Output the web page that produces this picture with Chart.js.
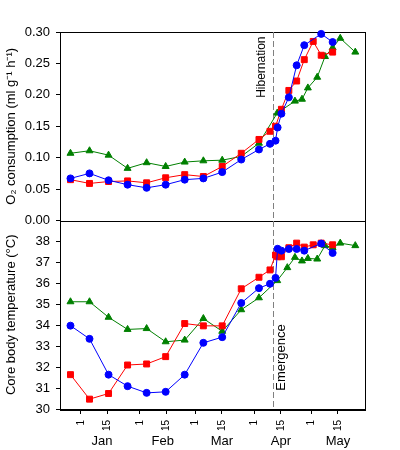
<!DOCTYPE html>
<html>
<head>
<meta charset="utf-8">
<script src="https://cdn.jsdelivr.net/npm/chart.js@4.4.1/dist/chart.umd.min.js"></script>
<style>
  html, body { margin: 0; padding: 0; background: #fff; }
  #wrap { width: 400px; height: 450px; }
</style>
</head>
<body>
<div id="wrap"><canvas id="myChart" width="400" height="450"></canvas></div>
<script>

// AXES (days counted from Jan 1) //

const dayTicks = [0, 14, 31, 45, 60, 74, 91, 105, 121, 135];
const dayTickLabels = ['1', '15', '1', '15', '1', '15', '1', '15', '1', '15'];
const monthTicks = [11, 43, 74, 105, 135];
const monthLabels = ['Jan', 'Feb', 'Mar', 'Apr', 'May'];
const eventDay = 100.8;

// O2 CONSUMPTION //

const blueO2Days = [-5.5, 4.5, 14.5, 24.5, 34.5, 44.5, 54.5, 64.3, 74.2, 84.2, 93.5, 99.3, 102.2, 103.3, 105.3, 109.2, 113.3, 117.3, 126.2, 132.2];
const blueO2 = [0.067, 0.075, 0.064, 0.057, 0.052, 0.057, 0.065, 0.067, 0.077, 0.097, 0.113, 0.122, 0.127, 0.148, 0.170, 0.196, 0.247, 0.279, 0.297, 0.284];

const redO2Days = [-5.5, 4.5, 14.5, 24.5, 34.5, 44.5, 54.5, 64.3, 74.2, 84.2, 93.5, 99.3, 102.2, 105.3, 109.2, 113.3, 117.3, 122.0, 126.2, 132.2];
const redO2 = [0.065, 0.059, 0.062, 0.063, 0.060, 0.068, 0.073, 0.070, 0.086, 0.107, 0.129, 0.142, 0.150, 0.177, 0.207, 0.222, 0.256, 0.285, 0.263, 0.268];

const greenO2Days = [-5.5, 4.5, 14.5, 24.5, 34.5, 44.5, 54.5, 64.3, 74.2, 84.2, 93.5, 103.1, 112.4, 116.1, 119.2, 124.1, 128.2, 132.2, 136.2, 144.1];
const greenO2 = [0.107, 0.111, 0.104, 0.083, 0.092, 0.086, 0.093, 0.095, 0.096, 0.102, 0.123, 0.171, 0.190, 0.193, 0.211, 0.228, 0.261, 0.275, 0.290, 0.268];

// CORE BODY TEMPERATURE //

const blueTDays = [-5.5, 4.5, 14.5, 24.5, 34.5, 44.5, 54.5, 64.3, 74.2, 84.2, 93.5, 99.3, 102.2, 103.3, 105.3, 109.2, 113.3, 117.3, 126.2, 132.2];
const blueT = [33.98, 33.35, 31.64, 31.09, 30.77, 30.82, 31.64, 33.16, 33.43, 35.06, 35.77, 35.98, 36.26, 37.65, 37.56, 37.64, 37.64, 37.56, 37.90, 37.45];

const redTDays = [-5.5, 4.5, 14.5, 24.5, 34.5, 44.5, 54.5, 64.3, 74.2, 84.2, 93.5, 99.3, 102.2, 103.3, 105.3, 109.2, 113.3, 117.3, 122.0, 126.2, 132.2];
const redT = [31.64, 30.47, 30.74, 32.10, 32.15, 32.50, 34.08, 33.97, 33.97, 35.74, 36.29, 36.64, 37.35, 37.27, 37.27, 37.70, 37.92, 37.73, 37.84, 37.92, 37.84];

const greenTDays = [-5.5, 4.5, 14.5, 24.5, 34.5, 44.5, 54.5, 64.3, 74.2, 84.2, 93.5, 103.1, 108.4, 112.4, 116.1, 119.2, 124.1, 128.2, 132.2, 136.2, 144.1];
const greenT = [35.12, 35.12, 34.38, 33.80, 33.84, 33.21, 33.29, 34.32, 33.71, 34.74, 35.31, 36.13, 36.75, 37.24, 37.07, 37.19, 37.16, 37.80, 37.71, 37.92, 37.80];


const xMin = -11;
const xMax = 149.2;

const pts = (days, vals) => days.map((d, i) => ({ x: d, y: vals[i] }));

const serie = (days, vals, axis, color, style, radius) => ({
  data: pts(days, vals),
  yAxisID: axis,
  borderColor: color,
  backgroundColor: color,
  borderWidth: 1,
  pointStyle: style,
  pointRadius: radius,
  pointBorderWidth: 1,
  clip: false
});

// cadres, ligne pointillée et annotations
const decor = {
  id: 'decor',
  beforeDatasetsDraw(chart) {
    const c = chart.ctx;
    const a = chart.chartArea;
    const top = chart.scales.yO;
    const bot = chart.scales.yT;
    c.save();
    c.strokeStyle = '#000';
    c.lineWidth = 1;
    c.strokeRect(Math.round(a.left) + 0.5, Math.round(top.top) + 0.5, Math.round(a.right - a.left), Math.round(top.bottom - top.top));
    c.strokeRect(Math.round(a.left) + 0.5, Math.round(bot.top) + 0.5, Math.round(a.right - a.left), Math.round(bot.bottom - bot.top));

    const lx = Math.round(chart.scales.x.getPixelForValue(eventDay)) + 0.5;
    c.strokeStyle = '#808080';
    c.setLineDash([6, 3]);
    c.beginPath();
    c.moveTo(lx, a.top);
    c.lineTo(lx, a.bottom);
    c.stroke();
    c.setLineDash([]);

    c.fillStyle = '#000';
    c.textAlign = 'center';
    c.textBaseline = 'middle';
    c.font = '12px "Liberation Sans", Arial, sans-serif';
    c.save();
    c.translate(lx - 11.5, top.getPixelForValue(0.244));
    c.rotate(-Math.PI / 2);
    c.fillText('Hibernation', 0, 0);
    c.restore();
    c.font = '13px "Liberation Sans", Arial, sans-serif';
    c.save();
    c.translate(lx + 7.5, bot.getPixelForValue(32.46));
    c.rotate(-Math.PI / 2);
    c.fillText('Emergence', 0, 0);
    c.restore();
    c.restore();
  }
};

Chart.defaults.font.family = '"Liberation Sans", Arial, sans-serif';
Chart.defaults.color = '#000';

const ctx = document.getElementById('myChart');

new Chart(ctx, {
  type: 'line',
  data: {
    datasets: [
      serie(blueO2Days, blueO2, 'yO', '#0000ff', 'circle', 3.5),
      serie(redO2Days, redO2, 'yO', '#ff0000', 'rect', 4.2),
      serie(greenO2Days, greenO2, 'yO', '#008000', 'triangle', 4),
      serie(blueTDays, blueT, 'yT', '#0000ff', 'circle', 3.5),
      serie(redTDays, redT, 'yT', '#ff0000', 'rect', 4.2),
      serie(greenTDays, greenT, 'yT', '#008000', 'triangle', 4)
    ]
  },
  options: {
    responsive: false,
    animation: false,
    layout: { padding: { top: 32, right: 35, left: 0, bottom: 0 } },
    plugins: { legend: false, tooltip: { enabled: false } },
    scales: {
      x: {
        type: 'linear',
        position: 'bottom',
        min: xMin,
        max: xMax,
        afterBuildTicks: s => { s.ticks = dayTicks.map(v => ({ value: v })); },
        afterFit: s => { s.height = 22; },
        grid: { drawOnChartArea: false, color: '#000', tickLength: 5 },
        border: { color: '#000' },
        ticks: {
          autoSkip: false,
          minRotation: 90,
          maxRotation: 90,
          padding: 6,
          font: { size: 10 },
          callback: (v, i) => dayTickLabels[i]
        }
      },
      x2: {
        type: 'linear',
        position: 'bottom',
        min: xMin,
        max: xMax,
        afterBuildTicks: s => { s.ticks = monthTicks.map(v => ({ value: v })); },
        afterFit: s => { s.height = 19; },
        grid: { display: false, drawTicks: false },
        border: { display: false },
        ticks: {
          autoSkip: false,
          maxRotation: 0,
          padding: 3,
          font: { size: 13 },
          callback: (v, i) => monthLabels[i]
        }
      },
      yT: {
        type: 'linear',
        position: 'left',
        stack: 'panels',
        stackWeight: 1,
        weight: 0,
        min: 30,
        max: 39,
        afterFit: s => { s.width = 60; },
        grid: { drawOnChartArea: false, color: '#000', tickLength: 4 },
        border: { color: '#000' },
        ticks: { stepSize: 1, autoSkip: false, padding: 6, font: { size: 13 }, callback: v => (v >= 39 ? '' : v) },
        title: { display: true, text: 'Core body temperature (°C)', font: { size: 13 }, padding: { top: 4, bottom: 0 } }
      },
      yO: {
        type: 'linear',
        position: 'left',
        stack: 'panels',
        stackWeight: 1,
        weight: 1,
        min: 0,
        max: 0.3,
        afterFit: s => { s.width = 60; },
        grid: { drawOnChartArea: false, color: '#000', tickLength: 4 },
        border: { color: '#000' },
        ticks: { stepSize: 0.05, autoSkip: false, padding: 6, font: { size: 13 }, callback: v => v.toFixed(2) },
        title: { display: true, text: 'O₂ consumption (ml g⁻¹ h⁻¹)', font: { size: 13 }, padding: { top: 4, bottom: 0 } }
      }
    }
  },
  plugins: [decor]
});
</script>
</body>
</html>
